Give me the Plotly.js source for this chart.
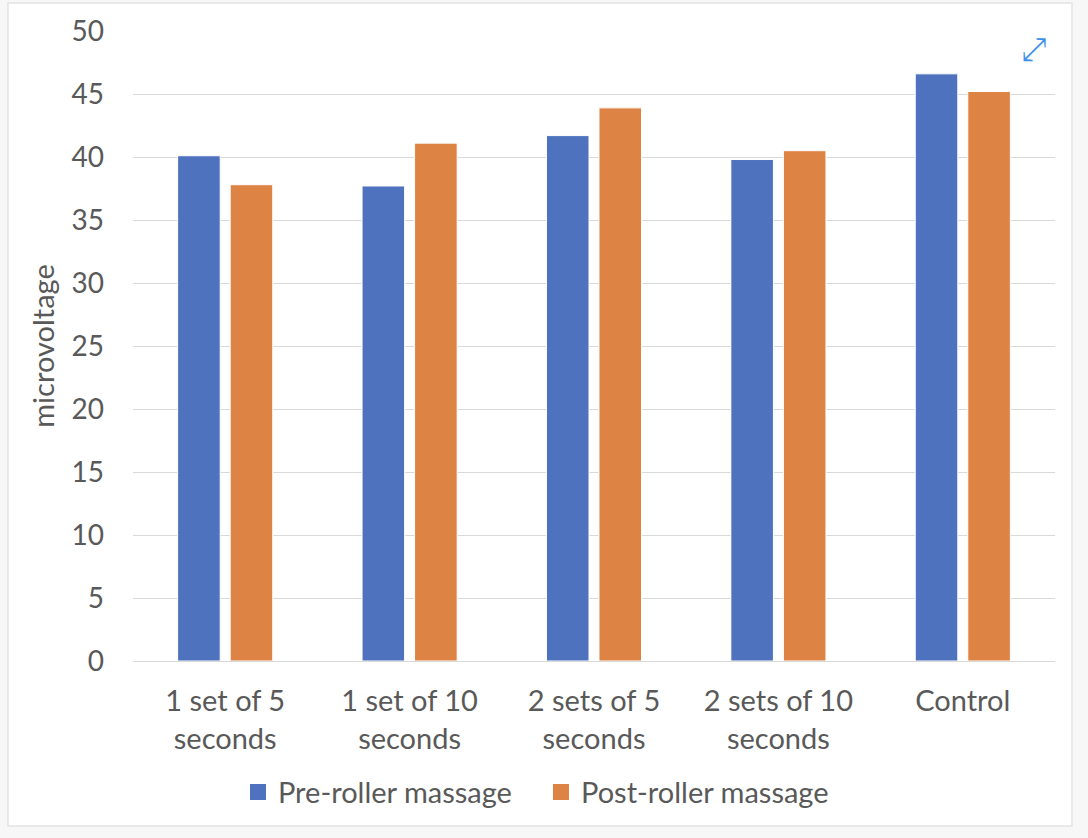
<!DOCTYPE html>
<html>
<head>
<meta charset="utf-8">
<script src="https://cdn.plot.ly/plotly-3.0.1.min.js"></script>
<style>
  html, body { margin: 0; padding: 0; background: #f7f7f7; }
  #chart { width: 1088px; height: 838px; }
</style>
</head>
<body>
<div id="chart"></div>
<script>
const categories = [
  "1 set of 5<br>seconds",
  "1 set of 10<br>seconds",
  "2 sets of 5<br>seconds",
  "2 sets of 10<br>seconds",
  "Control"
];
const seriesNames = ["Pre-roller massage", "Post-roller massage"];
const preRoller = [40.1, 37.7, 41.7, 39.8, 46.6];
const postRoller = [37.8, 41.1, 43.9, 40.5, 45.2];
const yTicks = [0, 5, 10, 15, 20, 25, 30, 35, 40, 45, 50];

const fontFamily = "Lato, 'Open Sans', sans-serif";
const textGray = "#595959";
const colors = ["#4f72be", "#dd8344"];

// bars (legend drawn by the marker-only traces below, for bigger squares)
const traces = [preRoller, postRoller].map((vals, i) => ({
  x: categories,
  y: vals,
  name: seriesNames[i],
  type: "bar",
  showlegend: false,
  marker: { color: colors[i], line: { color: "#ffffff", width: 1 } }
}));

seriesNames.forEach((name, i) => {
  traces.push({
    x: [categories[0]],
    y: [null],
    name: name,
    type: "scatter",
    mode: "markers",
    marker: { symbol: "square", size: 19, color: colors[i] },
    showlegend: true
  });
});

const layout = {
  width: 1088,
  height: 838,
  margin: { l: 133, r: 33, t: 31, b: 177 },
  paper_bgcolor: "#f7f7f7",
  plot_bgcolor: "rgba(0,0,0,0)",
  font: { family: fontFamily, size: 29, color: textGray },
  barmode: "group",
  bargap: 0.43,
  bargroupgap: 0.19,
  showlegend: true,
  legend: {
    orientation: "h",
    x: 0.4425, xanchor: "center",
    y: -0.208, yanchor: "middle",
    bgcolor: "rgba(0,0,0,0)",
    font: { size: 29, color: textGray },
    entrywidth: 258,
    entrywidthmode: "pixels",
    traceorder: "normal"
  },
  xaxis: {
    type: "category",
    showgrid: false,
    showline: false,
    ticks: "",
    ticklabelstandoff: 20,
    tickfont: { size: 29, color: textGray }
  },
  yaxis: {
    range: [0, 50],
    tickvals: yTicks,
    ticktext: yTicks.map(String),
    showgrid: true,
    gridcolor: "#d9d9d9",
    gridwidth: 1,
    zeroline: true,
    zerolinecolor: "#d9d9d9",
    zerolinewidth: 1,
    showline: false,
    ticks: "",
    ticklabelstandoff: 28,
    tickfont: { size: 28, color: textGray },
    title: { text: "microvoltage", font: { size: 29, color: textGray }, standoff: 8 }
  },
  shapes: [
    {
      type: "rect", xref: "paper", yref: "paper", layer: "below",
      x0: -0.1356, x1: 1.0184, y0: -0.2619, y1: 1.0444,
      fillcolor: "#ffffff", line: { color: "#e3e3e3", width: 1.5 }
    }
  ],
  annotations: [
    {
      xref: "paper", yref: "paper", x: 0.9935, y: 1.005,
      text: "⤢", showarrow: false,
      font: { size: 32, color: "#3d8fe8", family: "DejaVu Sans" }
    }
  ]
};

Plotly.newPlot("chart", traces, layout, { displayModeBar: false, staticPlot: true });
</script>
</body>
</html>
